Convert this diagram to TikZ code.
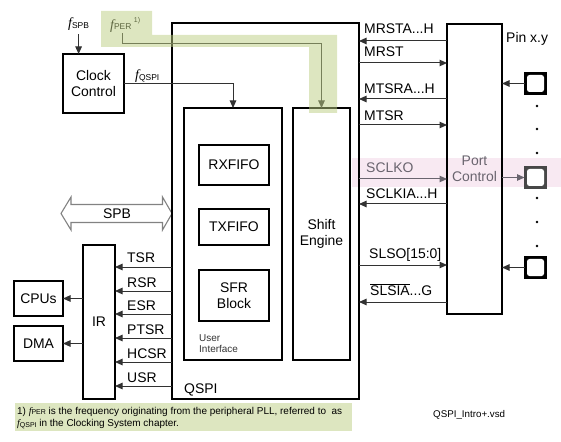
\documentclass[tikz,border=0pt]{standalone}
\usepackage{fontspec}
\setmainfont{Liberation Sans}
\newfontfamily\ffam{Liberation Serif}
\usetikzlibrary{arrows.meta,calc}
\definecolor{hlgreen}{RGB}{187,205,129}
\definecolor{notegreen}{RGB}{221,230,192}
\definecolor{bandpink}{RGB}{248,233,242}
\definecolor{sclkgray}{RGB}{105,100,110}
\definecolor{busgray}{RGB}{130,130,130}
\definecolor{wire}{RGB}{50,50,50}
\newcommand{\freqlabel}[3]{{\fontsize{#1}{#1}\ffam\itshape f}{\fontsize{#2}{#2}\selectfont\raisebox{-0.6bp}{#3}}}
\tikzset{
  box/.style={draw, line width=2bp, inner sep=0, outer sep=0, align=center, font=\fontsize{14}{16}\selectfont},
  thickbox/.style={box, line width=2.8bp},
  arr/.style={draw=wire, line width=1bp, -{Triangle[length=7.5bp,width=6.5bp]}},
  sig/.style={anchor=base west, inner sep=0, font=\fontsize{14}{16}\selectfont},
  small/.style={anchor=base west, inner sep=0, font=\fontsize{10}{12}\selectfont},
  pin/.style={draw, fill=black, line width=1.2bp, minimum size=22bp, inner sep=0, outer sep=0,
    path picture={\fill[white, rounded corners=2.5bp] ([shift={(2.5bp,2.5bp)}]path picture bounding box.south west) rectangle ([shift={(-2.5bp,-2.5bp)}]path picture bounding box.north east);}}
}
\begin{document}
\begin{tikzpicture}[x=1bp,y=-1bp]
\useasboundingbox (0,0) rectangle (561,442);
% pink band
\fill[bandpink] (352,158) rectangle (561,187);
% SPB bus
\draw[draw=busgray, line width=1.1bp, fill=white] (61,213.5) -- (71,197) -- (71,204.5) -- (162.5,204.5) -- (162.5,197) -- (172,213.5) -- (162.5,230) -- (162.5,222.5) -- (71,222.5) -- (71,230) -- cycle;
\node[font=\fontsize{14}{16}\selectfont, inner sep=0] (spb) at (117,214) {SPB};
% boxes
\node[thickbox, minimum width=187bp, minimum height=376bp] (qspi) at (265.5,211) {};
\node[box, text=sclkgray, minimum width=55bp, minimum height=290bp] (port) at (474.5,169) {Port\\Control};
\node[box, minimum width=98bp, minimum height=252bp] (ui) at (233,234) {};
\node[box, minimum width=57bp, minimum height=252bp] (se) at (321.5,234) {Shift\\Engine};
\node[box, minimum width=70bp, minimum height=40bp] (rx) at (234,165) {RXFIFO};
\node[box, minimum width=70bp, minimum height=36bp] (tx) at (234,227) {TXFIFO};
\node[box, minimum width=70bp, minimum height=51bp] (sfr) at (234,295.5) {SFR\\Block};
\node[thickbox, minimum width=61bp, minimum height=59bp] (clock) at (93.5,83.5) {Clock\\Control};
\node[box, minimum width=32bp, minimum height=154bp] (ir) at (99,322) {IR};
\node[thickbox, minimum width=49bp, minimum height=35bp] (cpus) at (38.5,298.5) {CPUs};
\node[thickbox, minimum width=49bp, minimum height=35bp] (dma) at (38.5,343.5) {DMA};
% inner labels
\node[sig] (qspilabel) at (184,393) {QSPI};
\node[anchor=base west, inner sep=0, font=\fontsize{10}{11}\selectfont, text=black!80] (uil1) at (199,341) {User};
\node[anchor=base west, inner sep=0, font=\fontsize{10}{11}\selectfont, text=black!80] (uil2) at (199,352) {Interface};
% clocks
\node[anchor=base west, inner sep=0] (fspb) at (68,28) {\freqlabel{14}{8.5}{SPB}};
\draw[arr] ([yshift=-3bp]fspb.south) -- (clock.north -| fspb.south);
\node[anchor=base west, inner sep=0] (fqspi) at (135,80) {\freqlabel{14}{8.5}{QSPI}};
\draw[arr] (clock.east) -| (ui.north);
\node[anchor=base west, inner sep=0] (fper) at (110,29.3) {\freqlabel{14}{8.5}{PER}\hspace{2.5bp}\raisebox{7bp}{\fontsize{7}{7}\selectfont 1)}};
\coordinate (fperfoot) at (122.7,33.3);
\draw[arr] (fperfoot) |- ($(se.north)+(0,-64.7)$) -- (se.north);
% right side signals
\node[sig] (lmrsta) at (364,34) {MRSTA...H};
\draw[arr] (port.west |- 0,41) -- (qspi.east |- 0,41);
\node[sig] (lmrst) at (364,57) {MRST};
\draw[arr] (qspi.east |- 0,63) -- (port.west |- 0,63);
\node[sig] (lmtsra) at (364,94) {MTSRA...H};
\draw[arr] (port.west |- 0,99) -- (qspi.east |- 0,99);
\node[sig] (lmtsr) at (364,120.5) {MTSR};
\draw[arr] (qspi.east |- 0,125) -- (port.west |- 0,125);
\node[sig, text=sclkgray] (lsclko) at (366,172.5) {SCLKO};
\draw[arr, draw=sclkgray] (qspi.east |- 0,179) -- (port.west |- 0,179);
\node[sig] (lsclkia) at (366,199) {SCLKIA...H};
\draw[arr] (port.west |- 0,204) -- (qspi.east |- 0,204);
\node[sig] (lslso) at (369,259) {SLSO[15:0]};
\draw[arr] (qspi.east |- 0,265) -- (port.west |- 0,265);
\node[sig] (lslsia) at (370,295.5) {$\overline{\hbox{SLSIA}}$...G};
\draw[arr] (port.west |- 0,302) -- (qspi.east |- 0,302);
% left side signals
\node[sig] (ltsr) at (127,263) {TSR};
\draw[arr] (qspi.west |- 0,267) -- (ir.east |- 0,267);
\node[sig] (lrsr) at (127,287) {RSR};
\draw[arr] (qspi.west |- 0,291) -- (ir.east |- 0,291);
\node[sig] (lesr) at (127,310) {ESR};
\draw[arr] (qspi.west |- 0,314) -- (ir.east |- 0,314);
\node[sig] (lptsr) at (127,334) {PTSR};
\draw[arr] (qspi.west |- 0,338) -- (ir.east |- 0,338);
\node[sig] (lhcsr) at (127,358) {HCSR};
\draw[arr] (qspi.west |- 0,362) -- (ir.east |- 0,362);
\node[sig] (lusr) at (127,382) {USR};
\draw[arr] (qspi.west |- 0,386) -- (ir.east |- 0,386);
% IR to CPUs / DMA
\draw[arr] (ir.west |- cpus.east) -- (cpus.east);
\draw[arr] (ir.west |- dma.east) -- (dma.east);
% pins
\node[sig] (pinlabel) at (506,43) {Pin x.y};
\node[pin] (pin1) at (535.5,83.5) {};
\node[pin, draw=black!72, fill=black!72] (pin2) at (535.5,177.5) {};
\node[pin] (pin3) at (535.5,267.5) {};
\draw[arr] (pin1.west) -- (port.east |- pin1.west);
\draw[arr, draw=sclkgray] (port.east |- pin2.west) -- (pin2.west);
\draw[arr] (pin3.west) -- (port.east |- pin3.west);
\foreach \yy in {106,129,153,198,222,246} \fill (537,\yy) circle[radius=1.3bp];
% footnote
\node[fill=notegreen, minimum width=337bp, minimum height=28bp, inner sep=0] (note) at (183.5,417) {};
\node[small] (note1) at (17,414) {1) \freqlabel{10}{7}{PER} is the frequency originating from the peripheral PLL, referred to\ \ as};
\node[small] (note2) at (17,426.5) {\freqlabel{10}{7}{QSPI} in the Clocking System chapter.};
\node[anchor=base west, inner sep=0, font=\fontsize{9.8}{12}\selectfont] (vsd) at (433,417) {QSPI\_Intro+.vsd};
% green highlight overlay
\fill[hlgreen, fill opacity=0.5] (101,11) -- (152,11) -- (152,35) -- (337,35) -- (337,113) -- (309,113) -- (309,47) -- (101,47) -- cycle;
\end{tikzpicture}
\end{document}
